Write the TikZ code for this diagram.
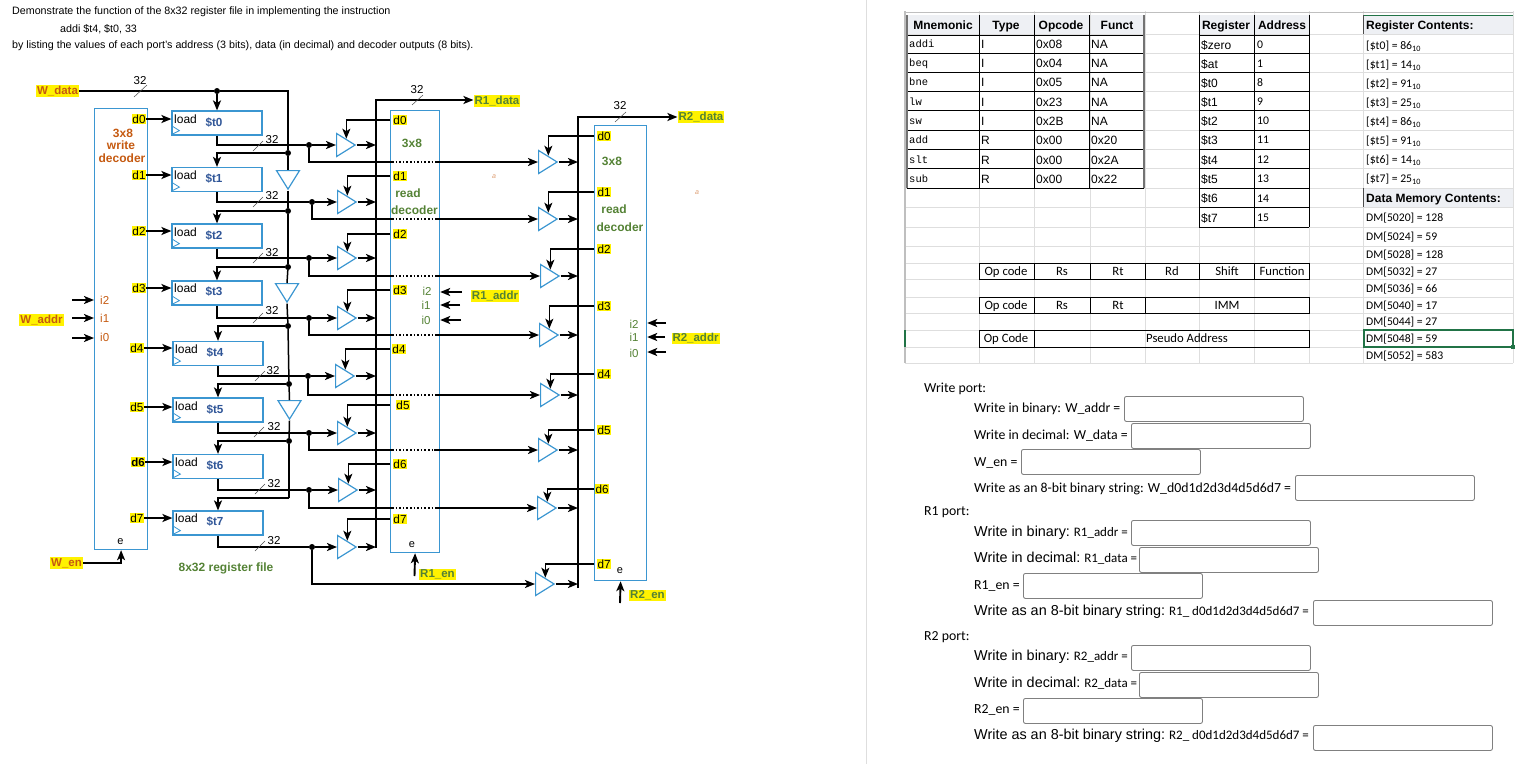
\documentclass[tikz,border=0pt]{standalone}
\usepackage{fontspec}
\setmainfont{Liberation Sans}
\newfontfamily\calibri{Carlito}
\newfontfamily\courier{Liberation Mono}
\usetikzlibrary{shapes.geometric,arrows.meta}
\definecolor{boxblue}{HTML}{3B96D1}
\definecolor{regblue}{HTML}{2F5597}
\definecolor{writeorange}{HTML}{C55A11}
\definecolor{readgreen}{HTML}{548235}
\definecolor{sheetgreen}{HTML}{217346}
\definecolor{sheetgrid}{HTML}{DEDEDE}
\definecolor{headfill}{HTML}{EEF0F4}

\begin{document}
\begin{tikzpicture}[x=1pt,y=-1pt,>={Stealth[length=10pt,width=8pt,inset=2.5pt]}]

\tikzstyle{every node}=[inner sep=0pt]
\tikzstyle{wire}=[line width=1.9pt]
\tikzstyle{thinwire}=[line width=1.5pt]
\tikzstyle{bus}=[line width=2.2pt]
\tikzstyle{dotwire}=[line width=1.9pt,dash pattern=on 1.6pt off 2pt]
\tikzstyle{tick}=[line width=0.5pt,black!70]
\tikzstyle{decoder}=[rectangle,draw=boxblue,line width=1.2pt,anchor=north west]
\tikzstyle{register}=[rectangle,draw=boxblue,line width=1.2pt,minimum width=90pt,minimum height=24pt]
\tikzstyle{clock}=[draw=boxblue,line width=0.8pt]
\tikzstyle{buffer}=[isosceles triangle,isosceles triangle stretches,draw=boxblue,line width=1.2pt,
  minimum width=23pt,minimum height=18.5pt,anchor=lower side]
\tikzstyle{tristate}=[buffer,shape border rotate=270]
\tikzstyle{junction}=[circle,fill=black,minimum size=6pt]
\tikzstyle{dlabel}=[fill=yellow,inner xsep=0.5pt,inner ysep=1pt,font=\fontsize{11.7}{13}\selectfont]
\tikzstyle{loadtext}=[anchor=west,font=\fontsize{12}{14}\selectfont]
\tikzstyle{regname}=[text=regblue,font=\bfseries\fontsize{11.7}{14}\selectfont]
\tikzstyle{bits}=[font=\fontsize{11.5}{13}\selectfont]
\tikzstyle{etext}=[font=\fontsize{11}{13}\selectfont]
\tikzstyle{wtext}=[text=writeorange,font=\fontsize{12}{14}\selectfont\bfseries]
\tikzstyle{rtext}=[text=readgreen,font=\fontsize{12}{14}\selectfont\bfseries]
\tikzstyle{wport}=[text=writeorange,font=\fontsize{11.5}{13}\selectfont]
\tikzstyle{rport}=[text=readgreen,font=\fontsize{11.5}{13}\selectfont]
\tikzstyle{wname}=[fill=yellow,inner sep=1pt,text=writeorange,font=\bfseries\fontsize{11.5}{13}\selectfont]
\tikzstyle{rname}=[fill=yellow,inner sep=1pt,text=readgreen,font=\bfseries\fontsize{11.5}{13}\selectfont]
\tikzstyle{question}=[anchor=west,font=\fontsize{10.7}{12}\selectfont]
\tikzstyle{speck}=[text=writeorange!60,font=\itshape\fontsize{7}{8}\selectfont]
\tikzstyle{sheetline}=[sheetgrid,line width=0.8pt]
\tikzstyle{cellline}=[black,line width=1pt]
\tikzstyle{head}=[font=\bfseries\fontsize{12}{14}\selectfont,text height=10.5pt,text depth=2pt]
\tikzstyle{headleft}=[head,anchor=west]
\tikzstyle{mono}=[anchor=west,font=\courier\fontsize{10.5}{12}\selectfont,text height=9pt,text depth=2pt]
\tikzstyle{cell}=[anchor=west,font=\fontsize{12}{14}\selectfont,text height=10.5pt,text depth=2pt]
\tikzstyle{calcell}=[anchor=west,font=\calibri\fontsize{11.7}{14}\selectfont,text height=9.5pt,text depth=2pt]
\tikzstyle{fieldcell}=[font=\calibri\fontsize{12.7}{14}\selectfont,text height=10pt,text depth=2pt]
\tikzstyle{formtext}=[anchor=west,font=\calibri\fontsize{13.8}{15}\selectfont,text height=10.5pt,text depth=2pt]
\tikzstyle{tailtext}=[anchor=west,font=\calibri\fontsize{13}{15}\selectfont,text height=10.5pt,text depth=2pt]
\tikzstyle{answer}=[rectangle,draw=black!50,line width=0.9pt,rounded corners=2pt,anchor=north west,
  minimum width=179pt,minimum height=25pt]

\def\asksize{\normalfont\fontsize{14.4}{15}\selectfont}

\useasboundingbox (0,0) rectangle (1531,764);

%question
\node[question] (q1) at (12,12) {Demonstrate the function of the 8x32 register file in implementing the instruction};
\node[question] (q2) at (60,29) {addi \$t4, \$t0, 33};
\node[question] (q3) at (12,46) {by listing the values of each port's address (3 bits), data (in decimal) and decoder outputs (8 bits).};

%divider
\draw[sheetline] (866,0) -- (866,764);

%write decoder
\node[decoder,minimum width=53pt,minimum height=441pt] (wdec) at (94,108) {};
\node[wtext] (wdec1) at (123,133) {3x8};
\node[wtext] (wdec2) at (121,145) {write};
\node[wtext] (wdec3) at (122,158) {decoder};
\node[dlabel] (wd0) at (139,119) {d0};
\node[dlabel] (wd1) at (139,175) {d1};
\node[dlabel] (wd2) at (139,231) {d2};
\node[dlabel] (wd3) at (139,288) {d3};
\node[dlabel] (wd4) at (137,348) {d4};
\node[dlabel] (wd5) at (137,407) {d5};
\node[dlabel,font=\bfseries\fontsize{11.5}{13}\selectfont] (wd6) at (138,462) {d6};
\node[dlabel] (wd7) at (137,518) {d7};
\node[wport,anchor=west] (wi2) at (100,300) {i2};
\node[wport,anchor=west] (wi1) at (100,318) {i1};
\node[wport,anchor=west] (wi0) at (100,337) {i0};
\node[etext] (we) at (120.5,542) {e};
\node[wname] (wdata) at (57.5,91) {W\_data};
\node[wname] (waddr) at (41.5,320) {W\_addr};
\node[wname] (wen) at (66.5,563) {W\_en};
\coordinate (wa2) at (72,300);
\coordinate (wa1) at (72,318);
\coordinate (wa0) at (72,338);
\draw[wire,->] (wa2) -- (wdec.west |- wa2);
\draw[wire,->] (wa1) -- (wdec.west |- wa1);
\draw[wire,->] (wa0) -- (wdec.west |- wa0);
\draw[thinwire,->] (wen.east) -| (wdec.south);

%registers
\node[register] (t0) at (217,123) {};
\node[register] (t1) at (217,179.5) {};
\node[register] (t2) at (217,236) {};
\node[register] (t3) at (217,293) {};
\node[register] (t4) at (218,353.5) {};
\node[register] (t5) at (218,410) {};
\node[register] (t6) at (218,466.5) {};
\node[register] (t7) at (218,523) {};
\node[loadtext] (l0) at (174,119) {load};
\node[loadtext] (l1) at (174,175) {load};
\node[loadtext] (l2) at (174,232) {load};
\node[loadtext] (l3) at (174,288) {load};
\node[loadtext] (l4) at (175,349) {load};
\node[loadtext] (l5) at (175,406) {load};
\node[loadtext] (l6) at (175,462) {load};
\node[loadtext] (l7) at (175,518) {load};
\node[regname] (n0) at (214,123) {\$t0};
\node[regname] (n1) at (214,179) {\$t1};
\node[regname] (n2) at (214,236) {\$t2};
\node[regname] (n3) at (214,292) {\$t3};
\node[regname] (n4) at (215,353) {\$t4};
\node[regname] (n5) at (215,410) {\$t5};
\node[regname] (n6) at (215,466) {\$t6};
\node[regname] (n7) at (215,522) {\$t7};
\draw[clock] ([yshift=10pt]t0.south west) -- ++(8,5) -- ++(-8,4);
\draw[clock] ([yshift=10pt]t1.south west) -- ++(8,5) -- ++(-8,4);
\draw[clock] ([yshift=10pt]t2.south west) -- ++(8,5) -- ++(-8,4);
\draw[clock] ([yshift=10pt]t3.south west) -- ++(8,5) -- ++(-8,4);
\draw[clock] ([yshift=10pt]t4.south west) -- ++(8,5) -- ++(-8,4);
\draw[clock] ([yshift=10pt]t5.south west) -- ++(8,5) -- ++(-8,4);
\draw[clock] ([yshift=10pt]t6.south west) -- ++(8,5) -- ++(-8,4);
\draw[clock] ([yshift=10pt]t7.south west) -- ++(8,5) -- ++(-8,4);
\draw[wire,->] (wd0.east) -- (t0.west |- wd0);
\draw[wire,->] (wd1.east) -- (t1.west |- wd1);
\draw[wire,->] (wd2.east) -- (t2.west |- wd2);
\draw[wire,->] (wd3.east) -- (t3.west |- wd3);
\draw[wire,->] (wd4.east) -- (t4.west |- wd4);
\draw[wire,->] (wd5.east) -- (t5.west |- wd5);
\draw[wire,->] (wd6.east) -- (t6.west |- wd6);
\draw[wire,->] (wd7.east) -- (t7.west |- wd7);

%write data line
\node[junction] (wj) at (217,91) {};
\node[junction] (k1) at (288,153) {};
\node[junction] (k2) at (288,211) {};
\node[junction] (k3) at (288,267) {};
\node[junction] (k4) at (288,326) {};
\node[junction] (k5) at (289,384) {};
\node[junction] (k6) at (289,441) {};
\coordinate (k7) at (289,498);
\node[tristate] (s1) at (288,170) {};
\node[tristate] (s2) at (287,283) {};
\node[tristate] (s3) at (289.5,400) {};
\draw[wire] (wdata.east) -- (wj);
\draw[wire] (wj) -| (k1);
\draw[thinwire] (k1) -- (s1.lower side);
\draw[thinwire] (s1.apex) -- (k2);
\draw[thinwire] (k2) -- (k3);
\draw[thinwire] (k3) -- (s2.lower side);
\draw[thinwire] (s2.apex) -- (k4);
\draw[thinwire] (k4) -- (k5);
\draw[thinwire] (k5) -- (s3.lower side);
\draw[thinwire] (s3.apex) -- (k6);
\draw[thinwire] (k6) -- (k7);
\draw[wire,->] (wj) -- (t0.north);
\draw[wire,->] (k1) -| (t1.north);
\draw[wire,->] (k2) -| (t2.north);
\draw[thinwire,->] (k3) -| (t3.north);
\draw[wire,->] (k4) -| (t4.north);
\draw[wire,->] (k5) -| (t5.north);
\draw[wire,->] (k6) -| (t6.north);
\draw[thinwire,->] (k7) -| (t7.north);
\node[bits] (w32) at (140,81) {32};
\draw[tick] (134,97) -- (147,85);

%R1 decoder
\node[decoder,minimum width=49pt,minimum height=442pt] (rdec1) at (390,110) {};
\node[rtext] (r1t1) at (412,143) {3x8};
\node[rtext] (r1t2) at (408,193) {read};
\node[rtext] (r1t3) at (414.5,210) {decoder};
\node[dlabel] (ad0) at (400,120) {d0};
\node[dlabel] (ad1) at (400,176) {d1};
\node[dlabel] (ad2) at (400,234) {d2};
\node[dlabel] (ad3) at (400,290) {d3};
\node[dlabel] (ad4) at (399,349) {d4};
\node[dlabel] (ad5) at (403,405) {d5};
\node[dlabel] (ad6) at (400,464) {d6};
\node[dlabel] (ad7) at (400,519) {d7};
\node[rport] (ai2) at (427,291) {i2};
\node[rport] (ai1) at (426,305) {i1};
\node[rport] (ai0) at (426,320) {i0};
\node[etext] (ae) at (412,545) {e};
\node[rname] (r1addr) at (495,296) {R1\_addr};
\node[rname] (r1data) at (497,101) {R1\_data};
\node[rname] (r1en) at (437.5,574.5) {R1\_en};
\node[rtext] (regfile) at (226,568) {8x32 register file};
\node[speck] (a1) at (494,177) {a};
\coordinate (aa2) at (462,292);
\coordinate (aa1) at (460,305);
\coordinate (aa0) at (461,320);
\coordinate (ae1) at (414.5,576);
\draw[wire,->] (aa2) -- (rdec1.east |- aa2);
\draw[wire,->] (aa1) -- (rdec1.east |- aa1);
\draw[wire,->] (aa0) -- (rdec1.east |- aa0);
\draw[wire,->] (ae1) -- (rdec1.south);

%R2 decoder
\node[decoder,minimum width=52pt,minimum height=455pt] (rdec2) at (594,125) {};
\node[rtext] (r2t1) at (612,161) {3x8};
\node[rtext] (r2t2) at (614,209) {read};
\node[rtext] (r2t3) at (620,227) {decoder};
\node[dlabel] (bd0) at (604,136) {d0};
\node[dlabel] (bd1) at (604,192) {d1};
\node[dlabel] (bd2) at (604,249) {d2};
\node[dlabel] (bd3) at (604,306) {d3};
\node[dlabel] (bd4) at (604,374) {d4};
\node[dlabel] (bd5) at (604,430) {d5};
\node[dlabel] (bd6) at (602,489) {d6};
\node[dlabel] (bd7) at (604,564) {d7};
\node[rport] (bi2) at (634,324) {i2};
\node[rport] (bi1) at (634,337) {i1};
\node[rport] (bi0) at (634,353) {i0};
\node[etext] (be) at (620,571) {e};
\node[rname] (r2addr) at (695.5,338.5) {R2\_addr};
\node[rname] (r2data) at (701,117) {R2\_data};
\node[rname] (r2en) at (647.5,595.5) {R2\_en};
\node[speck] (a2) at (697,193) {a};
\coordinate (ba2) at (666,323);
\coordinate (ba1) at (665,337);
\coordinate (ba0) at (666,352);
\coordinate (be1) at (620,603);
\draw[wire,->] (ba2) -- (rdec2.east |- ba2);
\draw[wire,->] (ba1) -- (rdec2.east |- ba1);
\draw[wire,->] (ba0) -- (rdec2.east |- ba0);
\draw[wire,->] (be1) -- (rdec2.south);

%buffers
\node[buffer] (b10) at (336,145) {};
\node[buffer] (b11) at (337,202) {};
\node[buffer] (b12) at (337,258) {};
\node[buffer] (b13) at (337,318) {};
\node[buffer] (b14) at (335,376) {};
\node[buffer] (b15) at (337,433) {};
\node[buffer] (b16) at (338,490) {};
\node[buffer] (b17) at (337,547) {};
\node[buffer] (b20) at (538,162) {};
\node[buffer] (b21) at (538,219) {};
\node[buffer] (b22) at (540,276) {};
\node[buffer] (b23) at (539,335) {};
\node[buffer] (b24) at (540,395) {};
\node[buffer] (b25) at (538,450) {};
\node[buffer] (b26) at (537,508) {};
\node[buffer] (b27) at (535,584) {};

%register outputs
\node[junction] (j0) at (309,145) {};
\node[junction] (j1) at (312,202) {};
\node[junction] (j2) at (309,258) {};
\node[junction] (j3) at (309,318) {};
\node[junction] (j4) at (308,376) {};
\node[junction] (j5) at (309,433) {};
\node[junction] (j6) at (309,490) {};
\node[junction] (j7) at (312,547) {};
\draw[wire] (t0.south) |- (j0);
\draw[wire] (t1.south) |- (j1);
\draw[wire] (t2.south) |- (j2);
\draw[wire] (t3.south) |- (j3);
\draw[wire] (t4.south) |- (j4);
\draw[wire] (t5.south) |- (j5);
\draw[wire] (t6.south) |- (j6);
\draw[wire] (t7.south) |- (j7);
\draw[wire,->] (j0) -- (b10.lower side);
\draw[wire,->] (j1) -- (b11.lower side);
\draw[wire,->] (j2) -- (b12.lower side);
\draw[wire,->] (j3) -- (b13.lower side);
\draw[wire,->] (j4) -- (b14.lower side);
\draw[wire,->] (j5) -- (b15.lower side);
\draw[wire,->] (j6) -- (b16.lower side);
\draw[wire,->] (j7) -- (b17.lower side);
\node[bits] (w0) at (272,140) {32};
\node[bits] (w1) at (272,196) {32};
\node[bits] (w2) at (272,253) {32};
\node[bits] (w3) at (272,311) {32};
\node[bits] (w4) at (273,371) {32};
\node[bits] (w5) at (274,427) {32};
\node[bits] (w6) at (274,484) {32};
\node[bits] (w7) at (274,541) {32};
\draw[tick] (253,151) -- (263,141);
\draw[tick] (253,207) -- (263,197);
\draw[tick] (253,263) -- (263,253);
\draw[tick] (253,323) -- (263,313);
\draw[tick] (255,381) -- (265,371);
\draw[tick] (254,437) -- (264,427);
\draw[tick] (255,494) -- (265,484);
\draw[tick] (255,551) -- (265,541);

%lines through R1 decoder
\coordinate (p0) at (392,162);
\coordinate (p1) at (392,219);
\coordinate (p2) at (392,276);
\coordinate (p3) at (392,335);
\coordinate (p4) at (392,395);
\coordinate (p5) at (392,450);
\coordinate (p6) at (392,508);
\coordinate (q0) at (436,162);
\coordinate (q1) at (436,219);
\coordinate (q2) at (436,276);
\coordinate (q3) at (436,335);
\coordinate (q4) at (436,395);
\coordinate (q5) at (434,450);
\coordinate (q6) at (436,508);
\draw[wire] (j0) |- (p0);
\draw[wire] (j1) |- (p1);
\draw[wire] (j2) |- (p2);
\draw[wire] (j3) |- (p3);
\draw[wire] (j4) |- (p4);
\draw[wire] (j5) |- (p5);
\draw[wire] (j6) |- (p6);
\draw[dotwire] (p0) -- (q0);
\draw[dotwire] (p1) -- (q1);
\draw[dotwire] (p2) -- (q2);
\draw[dotwire] (p3) -- (q3);
\draw[dotwire] (p4) -- (q4);
\draw[dotwire] (p5) -- (q5);
\draw[dotwire] (p6) -- (q6);
\draw[wire,->] (q0) -- (b20.lower side);
\draw[wire,->] (q1) -- (b21.lower side);
\draw[wire,->] (q2) -- (b22.lower side);
\draw[wire,->] (q3) -- (b23.lower side);
\draw[wire,->] (q4) -- (b24.lower side);
\draw[wire,->] (q5) -- (b25.lower side);
\draw[wire,->] (q6) -- (b26.lower side);
\draw[wire,->] (j7) |- (b27.lower side);

%read buses
\coordinate (r1top) at (376,100);
\coordinate (r1bot) at (376,548);
\coordinate (r2top) at (578,117);
\coordinate (r2bot) at (578,588);
\draw[bus,->] (r1bot) -- (r1top) -- (r1data.west |- r1top);
\draw[bus,->] (r2bot) -- (r2top) -- (r2data.west |- r2top);
\node[bits] (w8) at (417,90) {32};
\draw[tick] (412,105) -- (423,95);
\node[bits] (w9) at (620,106) {32};
\draw[tick] (615,122) -- (626,112);

%buffer enables
\draw[thinwire,->] (rdec1.west |- ad0) -| (b10.left side);
\draw[thinwire,->] (rdec1.west |- ad1) -| (b11.left side);
\draw[thinwire,->] (rdec1.west |- ad2) -| (b12.left side);
\draw[thinwire,->] (rdec1.west |- ad3) -| (b13.left side);
\draw[thinwire,->] (rdec1.west |- ad4) -| (b14.left side);
\draw[thinwire,->] (rdec1.west |- ad5) -| (b15.left side);
\draw[thinwire,->] (rdec1.west |- ad6) -| (b16.left side);
\draw[thinwire,->] (rdec1.west |- ad7) -| (b17.left side);
\draw[thinwire,->] (rdec2.west |- bd0) -| (b20.left side);
\draw[thinwire,->] (rdec2.west |- bd1) -| (b21.left side);
\draw[thinwire,->] (rdec2.west |- bd2) -| (b22.left side);
\draw[thinwire,->] (rdec2.west |- bd3) -| (b23.left side);
\draw[thinwire,->] (rdec2.west |- bd4) -| (b24.left side);
\draw[thinwire,->] (rdec2.west |- bd5) -| (b25.left side);
\draw[thinwire,->] (rdec2.west |- bd6) -| (b26.left side);
\draw[thinwire,->] (rdec2.west |- bd7) -| (b27.left side);

%buffer outputs
\draw[wire,->] (b10.apex) -- (b10.apex -| r1top);
\draw[wire,->] (b11.apex) -- (b11.apex -| r1top);
\draw[wire,->] (b12.apex) -- (b12.apex -| r1top);
\draw[wire,->] (b13.apex) -- (b13.apex -| r1top);
\draw[wire,->] (b14.apex) -- (b14.apex -| r1top);
\draw[wire,->] (b15.apex) -- (b15.apex -| r1top);
\draw[wire,->] (b16.apex) -- (b16.apex -| r1top);
\draw[wire,->] (b17.apex) -- (b17.apex -| r1top);
\draw[wire,->] (b20.apex) -- (b20.apex -| r2top);
\draw[wire,->] (b21.apex) -- (b21.apex -| r2top);
\draw[wire,->] (b22.apex) -- (b22.apex -| r2top);
\draw[wire,->] (b23.apex) -- (b23.apex -| r2top);
\draw[wire,->] (b24.apex) -- (b24.apex -| r2top);
\draw[wire,->] (b25.apex) -- (b25.apex -| r2top);
\draw[wire,->] (b26.apex) -- (b26.apex -| r2top);
\draw[wire,->] (b27.apex) -- (b27.apex -| r2top);

%sheet grid
\fill[headfill] (907,15) rectangle (1144,34);
\fill[headfill] (1199,15) rectangle (1309,34);
\fill[headfill] (1363,15) rectangle (1513,34);
\fill[headfill] (1363,188) rectangle (1513,207);
\draw[sheetline] (905,34) -- (1513,34) (905,53) -- (1513,53) (905,72) -- (1513,72)
  (905,91) -- (1513,91) (905,110) -- (1513,110) (905,130) -- (1513,130)
  (905,149) -- (1513,149) (905,168) -- (1513,168) (905,188) -- (1513,188)
  (905,207) -- (1513,207) (905,227) -- (1513,227) (905,246) -- (1513,246)
  (905,263) -- (1513,263) (905,279) -- (1513,279) (905,297) -- (1513,297)
  (905,313) -- (1513,313) (905,330) -- (1513,330) (905,347) -- (1513,347)
  (905,363) -- (1513,363);
\draw[sheetline] (979,11) -- (979,363) (1034,11) -- (1034,363) (1090,11) -- (1090,363)
  (1145,11) -- (1145,363) (1199,11) -- (1199,363) (1254,11) -- (1254,363)
  (1309,11) -- (1309,363) (1363,11) -- (1363,363) (1513,11) -- (1513,363);
\draw[black!25,line width=1.5pt] (905,11) -- (905,363);
\draw[black!25,line width=1pt] (905,12) -- (1513,12);

%mnemonic table
\draw[cellline] (907,35) -- (1144,35) (907,53) -- (1144,53) (907,72) -- (1144,72)
  (907,91) -- (1144,91) (907,110) -- (1144,110) (907,130) -- (1144,130)
  (907,149) -- (1144,149) (907,168) -- (1144,168) (907,188) -- (1144,188);
\draw[cellline] (979,15) -- (979,188) (1034,15) -- (1034,188)
  (1089,15) -- (1089,188);
\draw[black!55,line width=1.3pt] (907,15) -- (907,188) (1144,15) -- (1144,188);
\node[head] (hm) at (943,25) {Mnemonic};
\node[head] (ht) at (1006,25) {Type};
\node[head] (ho) at (1061,25) {Opcode};
\node[head] (hf) at (1117,25) {Funct};
\node[mono] (m0) at (909,44) {addi};
\node[mono] (m1) at (909,63) {beq};
\node[mono] (m2) at (909,82) {bne};
\node[mono] (m3) at (909,102) {lw};
\node[mono] (m4) at (909,121) {sw};
\node[mono] (m5) at (909,140) {add};
\node[mono] (m6) at (909,160) {slt};
\node[mono] (m7) at (909,179) {sub};
\node[cell] (y0) at (981,44) {I};
\node[cell] (y1) at (981,63) {I};
\node[cell] (y2) at (981,82) {I};
\node[cell] (y3) at (981,102) {I};
\node[cell] (y4) at (981,121) {I};
\node[cell] (y5) at (981,140) {R};
\node[cell] (y6) at (981,160) {R};
\node[cell] (y7) at (981,179) {R};
\node[cell] (c0) at (1036,44) {0x08};
\node[cell] (c1) at (1036,63) {0x04};
\node[cell] (c2) at (1036,82) {0x05};
\node[cell] (c3) at (1036,102) {0x23};
\node[cell] (c4) at (1036,121) {0x2B};
\node[cell] (c5) at (1036,140) {0x00};
\node[cell] (c6) at (1036,160) {0x00};
\node[cell] (c7) at (1036,179) {0x00};
\node[cell] (f0) at (1091,44) {NA};
\node[cell] (f1) at (1091,63) {NA};
\node[cell] (f2) at (1091,82) {NA};
\node[cell] (f3) at (1091,102) {NA};
\node[cell] (f4) at (1091,121) {NA};
\node[cell] (f5) at (1091,140) {0x20};
\node[cell] (f6) at (1091,160) {0x2A};
\node[cell] (f7) at (1091,179) {0x22};

%register table
\draw[cellline] (1199,35) -- (1309,35) (1199,53) -- (1309,53) (1199,72) -- (1309,72)
  (1199,91) -- (1309,91) (1199,110) -- (1309,110) (1199,130) -- (1309,130)
  (1199,149) -- (1309,149) (1199,168) -- (1309,168) (1199,188) -- (1309,188)
  (1199,207) -- (1309,207) (1199,227) -- (1309,227);
\draw[cellline] (1199,15) -- (1199,227) (1254,15) -- (1254,227) (1309,15) -- (1309,227);
\node[head] (hr) at (1226,25) {Register};
\node[head] (ha) at (1282,25) {Address};
\node[cell] (g0) at (1201,45) {\$zero};
\node[cell] (g1) at (1201,64) {\$at};
\node[cell] (g2) at (1201,83) {\$t0};
\node[cell] (g3) at (1201,102) {\$t1};
\node[cell] (g4) at (1201,121) {\$t2};
\node[cell] (g5) at (1201,140) {\$t3};
\node[cell] (g6) at (1201,160) {\$t4};
\node[cell] (g7) at (1201,179) {\$t5};
\node[cell] (g8) at (1201,198) {\$t6};
\node[cell] (g9) at (1201,218) {\$t7};
\node[calcell] (d0) at (1257,45) {0};
\node[calcell] (d1) at (1257,64) {1};
\node[calcell] (d2) at (1257,83) {8};
\node[calcell] (d3) at (1257,102) {9};
\node[calcell] (d4) at (1257,121) {10};
\node[calcell] (d5) at (1257,140) {11};
\node[calcell] (d6) at (1257,160) {12};
\node[calcell] (d7) at (1257,179) {13};
\node[calcell] (d8) at (1257,199) {14};
\node[calcell] (d9) at (1257,218) {15};

%contents
\draw[sheetgreen,line width=1pt] (1363,15) -- (1513,15);
\draw[black!70,line width=1pt] (1363,15) -- (1363,34) (1363,188) -- (1363,207);
\node[headleft] (hc) at (1366,25) {Register Contents:};
\node[calcell] (v0) at (1366,46) {[\$t0] = 86\textsubscript{10}};
\node[calcell] (v1) at (1366,65) {[\$t1] = 14\textsubscript{10}};
\node[calcell] (v2) at (1366,84) {[\$t2] = 91\textsubscript{10}};
\node[calcell] (v3) at (1366,103) {[\$t3] = 25\textsubscript{10}};
\node[calcell] (v4) at (1366,122) {[\$t4] = 86\textsubscript{10}};
\node[calcell] (v5) at (1366,141) {[\$t5] = 91\textsubscript{10}};
\node[calcell] (v6) at (1366,160) {[\$t6] = 14\textsubscript{10}};
\node[calcell] (v7) at (1366,179) {[\$t7] = 25\textsubscript{10}};
\node[headleft] (hd) at (1366,198) {Data Memory Contents:};
\node[calcell] (e0) at (1366,218) {DM[5020] = 128};
\node[calcell] (e1) at (1366,237) {DM[5024] = 59};
\node[calcell] (e2) at (1366,255) {DM[5028] = 128};
\node[calcell] (e3) at (1366,272) {DM[5032] = 27};
\node[calcell] (e4) at (1366,289) {DM[5036] = 66};
\node[calcell] (e5) at (1366,306) {DM[5040] = 17};
\node[calcell] (e6) at (1366,322) {DM[5044] = 27};
\node[calcell] (e7) at (1366,339) {DM[5048] = 59};
\node[calcell] (e8) at (1366,356) {DM[5052] = 583};
\draw[sheetgreen,line width=1.5pt] (1364,330) rectangle (1513,347);
\fill[sheetgreen] (1511,345) rectangle (1515,349);
\draw[sheetgreen,line width=1.5pt] (905,330) -- (905,347);

%instruction formats
\draw[cellline] (979,263) rectangle (1309,279);
\draw[cellline] (1034,263) -- (1034,279) (1090,263) -- (1090,279) (1145,263) -- (1145,279)
  (1199,263) -- (1199,279) (1254,263) -- (1254,279);
\draw[cellline] (979,297) rectangle (1309,313);
\draw[cellline] (1034,297) -- (1034,313) (1090,297) -- (1090,313) (1145,297) -- (1145,313);
\draw[cellline] (979,330) rectangle (1309,347);
\draw[cellline] (1034,330) -- (1034,347);
\node[fieldcell] (fa1) at (1006,271) {Op code};
\node[fieldcell] (fa2) at (1062,271) {Rs};
\node[fieldcell] (fa3) at (1118,271) {Rt};
\node[fieldcell] (fa4) at (1172,271) {Rd};
\node[fieldcell] (fa5) at (1227,271) {Shift};
\node[fieldcell] (fa6) at (1282,271) {Function};
\node[fieldcell] (fb1) at (1006,305) {Op code};
\node[fieldcell] (fb2) at (1062,305) {Rs};
\node[fieldcell] (fb3) at (1118,305) {Rt};
\node[fieldcell] (fb4) at (1227,305) {IMM};
\node[fieldcell] (fc1) at (1006,338) {Op Code};
\node[fieldcell] (fc2) at (1187,338) {Pseudo Address};

%write port form
\node[formtext] (w) at (924,388) {Write port:};
\node[formtext] (wt1) at (974,408) {Write in binary: W\_addr =};
\node[formtext] (wt2) at (974,435) {Write in decimal: W\_data =};
\node[formtext] (wt3) at (974,462) {W\_en =};
\node[formtext] (wt4) at (974,488) {Write as an 8-bit binary string: W\_d0d1d2d3d4d5d6d7 =};
\node[answer] (wb1) at (1124,396) {};
\node[answer] (wb2) at (1131,423) {};
\node[answer] (wb3) at (1021,449) {};
\node[answer] (wb4) at (1295,475) {};

%R1 port form
\node[formtext] (r1) at (924,511) {R1 port:};
\node[tailtext] (at1) at (974,532) {{\asksize Write in binary:} \calibri R1\_addr =};
\node[tailtext] (at2) at (974,558) {{\asksize Write in decimal:} \calibri R1\_data =};
\node[formtext] (at3) at (974,585) {R1\_en =};
\node[tailtext] (at4) at (974,611) {{\asksize Write as an 8-bit binary string:} \calibri R1\_ d0d1d2d3d4d5d6d7 =};
\node[answer] (ab1) at (1131,520) {};
\node[answer] (ab2) at (1139,547) {};
\node[answer] (ab3) at (1023,573) {};
\node[answer] (ab4) at (1313,600) {};

%R2 port form
\node[formtext] (r2) at (924,636) {R2 port:};
\node[tailtext] (bt1) at (974,656) {{\asksize Write in binary:} \calibri R2\_addr =};
\node[tailtext] (bt2) at (974,683) {{\asksize Write in decimal:} \calibri R2\_data =};
\node[formtext] (bt3) at (974,709) {R2\_en =};
\node[tailtext] (bt4) at (974,735) {{\asksize Write as an 8-bit binary string:} \calibri R2\_ d0d1d2d3d4d5d6d7 =};
\node[answer] (bb1) at (1131,645) {};
\node[answer] (bb2) at (1139,672) {};
\node[answer] (bb3) at (1023,698) {};
\node[answer] (bb4) at (1313,725) {};

\end{tikzpicture}
\end{document}
